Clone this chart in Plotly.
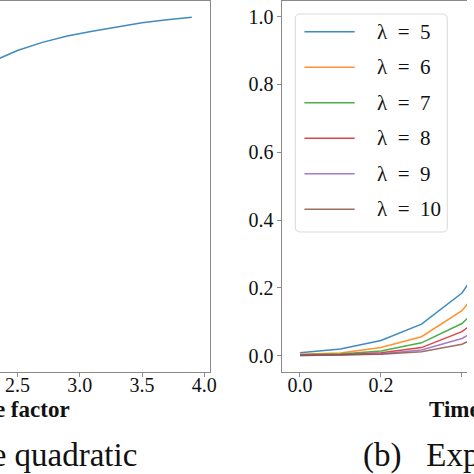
import plotly.graph_objects as go

W = H = 474

# ---------------- data ----------------
# (a) left panel: single curve vs scale factor
scale_factor = [2.3, 2.5, 2.7, 2.9, 3.1, 3.3, 3.5, 3.7, 3.9]
curve_a = [0.868, 0.900, 0.924, 0.943, 0.957, 0.970, 0.982, 0.991, 0.998]

# (b) right panel: curves vs time for several lambda
time = [0.0, 0.1, 0.2, 0.3, 0.4, 0.5]
lambdas = [5, 6, 7, 8, 9, 10]
series_b = {
    5: [0.009, 0.020, 0.045, 0.093, 0.185, 0.36],
    6: [0.004, 0.008, 0.024, 0.056, 0.133, 0.28],
    7: [0.003, 0.005, 0.014, 0.038, 0.095, 0.21],
    8: [0.002, 0.003, 0.009, 0.024, 0.071, 0.16],
    9: [0.001, 0.002, 0.006, 0.017, 0.051, 0.12],
    10: [0.001, 0.002, 0.004, 0.012, 0.034, 0.09],
}
colors = ["#1f77b4", "#ff7f0e", "#2ca02c", "#d62728", "#9467bd", "#8c564b"]

xticks_a = [1.0, 1.5, 2.0, 2.5, 3.0, 3.5, 4.0]
xticks_b = [0.0, 0.2, 0.4, 0.6, 0.8]
yticks_b = [0.0, 0.2, 0.4, 0.6, 0.8, 1.0]


def fx(px):
    return px / W


def fy(py):
    return 1 - py / H


FONT = "Liberation Serif, Times New Roman, serif"
SPINE = "#8a8a8a"

fig = go.Figure()

fig.add_trace(go.Scatter(x=scale_factor, y=curve_a, mode="lines",
                         line=dict(color="#1f77b4", width=1.5), opacity=0.85,
                         xaxis="x", yaxis="y", showlegend=False))

for lam, c in zip(lambdas, colors):
    fig.add_trace(go.Scatter(x=time, y=series_b[lam], mode="lines",
                             line=dict(color=c, width=1.5), opacity=0.85,
                             name=f"λ = {lam}",
                             xaxis="x2", yaxis="y2", showlegend=False))

yrange = [-0.048, 1.046]
ydom = [fy(372), fy(1)]

common_ax = dict(showgrid=False, zeroline=False, showline=True, linecolor=SPINE,
                 linewidth=1, ticks="outside", ticklen=4, tickcolor=SPINE,
                 tickfont=dict(family=FONT, size=20, color="#111"))

fig.update_layout(
    width=W, height=H,
    margin=dict(l=0, r=0, t=0, b=0),
    paper_bgcolor="white", plot_bgcolor="white",
    xaxis=dict(common_ax, domain=[0, fx(213.3)], range=[2.360, 4.047],
               tickvals=xticks_a, ticktext=[f"{v:.1f}" for v in xticks_a],
               mirror=True, anchor="y"),
    yaxis=dict(domain=ydom, range=yrange, side="right", showline=True,
               linecolor=SPINE, linewidth=1, showgrid=False, zeroline=False,
               showticklabels=False, ticks="", anchor="x"),
    xaxis2=dict(common_ax, domain=[fx(286.7), 1.0], range=[-0.0433, 0.4124],
                tickvals=xticks_b, ticktext=[f"{v:.1f}" for v in xticks_b],
                mirror=True, anchor="y2"),
    yaxis2=dict(common_ax, domain=ydom, range=yrange,
                tickvals=yticks_b, ticktext=[f"{v:.1f}" for v in yticks_b],
                anchor="x2"),
    showlegend=False,
)

# pull x tick labels closer to the axis (as in the reference)
try:
    fig.update_layout(xaxis_ticklabelstandoff=-9, xaxis2_ticklabelstandoff=-9)
except Exception:
    pass

# ---- legend (drawn manually to match matplotlib style) ----
lx0, lx1, ly0, ly1, r = 299.7, 454.0, 14.0, 232.0, 5.0
path = (f"M {fx(lx0 + r)} {fy(ly0)} L {fx(lx1 - r)} {fy(ly0)} "
        f"Q {fx(lx1)} {fy(ly0)} {fx(lx1)} {fy(ly0 + r)} "
        f"L {fx(lx1)} {fy(ly1 - r)} Q {fx(lx1)} {fy(ly1)} {fx(lx1 - r)} {fy(ly1)} "
        f"L {fx(lx0 + r)} {fy(ly1)} Q {fx(lx0)} {fy(ly1)} {fx(lx0)} {fy(ly1 - r)} "
        f"L {fx(lx0)} {fy(ly0 + r)} Q {fx(lx0)} {fy(ly0)} {fx(lx0 + r)} {fy(ly0)} Z")
shapes = [dict(type="path", xref="paper", yref="paper", path=path,
               line=dict(color="#d9d9d9", width=1), fillcolor="rgba(255,255,255,0.8)")]
annotations = []
SP = "\u2002"
for i, (lam, c) in enumerate(zip(lambdas, colors)):
    yc = 31.7 + i * 35.5
    shapes.append(dict(type="line", xref="paper", yref="paper",
                       x0=fx(309), x1=fx(360), y0=fy(yc), y1=fy(yc),
                       line=dict(color=c, width=1.5), opacity=0.85))
    annotations.append(dict(xref="paper", yref="paper", x=fx(381), y=fy(yc),
                            xanchor="left", yanchor="middle", showarrow=False,
                            text=f"λ{SP}={SP}{lam}",
                            font=dict(family=FONT, size=21, color="#111")))

# axis labels (partially cropped in the original figure)
annotations.append(dict(xref="paper", yref="paper", x=fx(73), y=fy(409),
                        xanchor="right", yanchor="middle", showarrow=False,
                        text="<b>Scale factor</b>",
                        font=dict(family=FONT, size=23, color="#111")))
annotations.append(dict(xref="paper", yref="paper", x=fx(433), y=fy(409),
                        xanchor="left", yanchor="middle", showarrow=False,
                        text="<b>Time</b>",
                        font=dict(family=FONT, size=23, color="#111")))
# sub-captions
annotations.append(dict(xref="paper", yref="paper", x=fx(141), y=fy(455),
                        xanchor="right", yanchor="middle", showarrow=False,
                        text="(a) Scale quadratic",
                        font=dict(family=FONT, size=33, color="#111")))
annotations.append(dict(xref="paper", yref="paper", x=fx(366), y=fy(455),
                        xanchor="left", yanchor="middle", showarrow=False,
                        text="(b)\u00a0\u00a0\u00a0Exponential",
                        font=dict(family=FONT, size=33, color="#111")))

fig.update_layout(shapes=shapes, annotations=annotations)

fig.write_html("out.html")
